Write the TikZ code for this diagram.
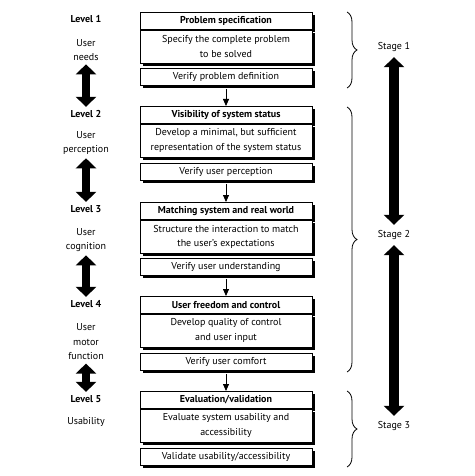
\documentclass[tikz,border=0pt]{standalone}
\usepackage{fontspec}
\setmainfont{PT Sans}
\usetikzlibrary{arrows.meta,positioning,shadows,decorations.pathreplacing}
\tikzstyle{box}=[draw=black, line width=0.8, fill=white, minimum width=172pt, inner sep=0pt, anchor=north, drop shadow={shadow xshift=3pt, shadow yshift=-3pt, opacity=1, fill=black}]
\tikzstyle{title}=[box, minimum height=17pt, font=\bfseries\fontsize{10}{14}\selectfont]
\tikzstyle{body}=[box, minimum height=33pt, align=center]
\tikzstyle{check}=[box, minimum height=17pt]
\tikzstyle{lvl}=[font=\bfseries\fontsize{10}{14}\selectfont]
\tikzstyle{who}=[align=center]
\tikzstyle{stage}=[]
\tikzstyle{l1}=[line width=0.8, -{Triangle[width=6pt,length=7pt]}]
\tikzstyle{fat}=[line width=8, {Triangle[width=20pt,length=10pt]}-{Triangle[width=20pt,length=10pt]}]
\tikzstyle{curly}=[line width=0.8, decorate, decoration={brace, amplitude=10pt}]

\begin{document}
\begin{tikzpicture}[x=1pt, y=-1pt, font=\fontsize{10}{14.5}\selectfont]
    \useasboundingbox (0,0) rectangle (474,476);

    % boxes
    \node (t1) [title] at (226,12) {Problem specification};
    \node (b1) [body] at (t1.south) {Specify the complete problem\\to be solved};
    \node (v1) [check] at (226,68) {Verify problem definition};

    \node (t2) [title] at (226,106) {Visibility of system status};
    \node (b2) [body] at (t2.south) {Develop a minimal, but sufficient\\representation of the system status};
    \node (v2) [check] at (226,163) {Verify user perception};

    \node (t3) [title] at (226,202) {Matching system and real world};
    \node (b3) [body] at (t3.south) {Structure the interaction to match\\the user's expectations};
    \node (v3) [check] at (226,258) {Verify user understanding};

    \node (t4) [title] at (226,296) {User freedom and control};
    \node (b4) [body] at (t4.south) {Develop quality of control\\and user input};
    \node (v4) [check] at (226,353) {Verify user comfort};

    \node (t5) [title] at (226,391) {Evaluation/validation};
    \node (b5) [body] at (t5.south) {Evaluate system usability and\\accessibility};
    \node (v5) [check] at (226,448) {Validate usability/accessibility};

    \draw[l1] ([yshift=-3pt]v1.south) -- (t2.north);
    \draw[l1] ([yshift=-3pt]v2.south) -- (t3.north);
    \draw[l1] ([yshift=-3pt]v3.south) -- (t4.north);
    \draw[l1] ([yshift=-3pt]v4.south) -- (t5.north);

    % levels
    \node (lv1) [lvl] at (86,19) {Level 1};
    \node (u1) [who] at (86,50) {User\\needs};
    \node (lv2) [lvl] at (86,114) {Level 2};
    \node (u2) [who] at (86,143) {User\\perception};
    \node (lv3) [lvl] at (86,209) {Level 3};
    \node (u3) [who] at (86,240) {User\\cognition};
    \node (lv4) [lvl] at (86,304) {Level 4};
    \node (u4) [who] at (86,342) {User\\motor\\function};
    \node (lv5) [lvl] at (86,399) {Level 5};
    \node (u5) [who] at (86,422) {Usability};

    \draw[fat] (u1.south) -- (lv2.north);
    \draw[fat] (u2.south) -- (lv3.north);
    \draw[fat] (u3.south) -- (lv4.north);
    \draw[fat] (u4.south) -- (lv5.north);

    % stages
    \coordinate (a1) at (347,12);
    \coordinate (z1) at (347,88);
    \coordinate (a2) at (347,107);
    \coordinate (z2) at (347,372);
    \coordinate (a3) at (347,391);
    \coordinate (z3) at (347,467);
    \draw[curly] (a1) -- (z1);
    \draw[curly] (a2) -- (z2);
    \draw[curly] (a3) -- (z3);

    \node (s1) [stage] at (394,47) {Stage 1};
    \node (s2) [stage] at (394,235) {Stage 2};
    \node (s3) [stage] at (394,426) {Stage 3};
    \draw[fat, line width=10, shorten <=2pt, shorten >=2pt] (s1.south) -- (s2.north);
    \draw[fat, line width=10, shorten <=2pt, shorten >=2pt] (s2.south) -- (s3.north);

\end{tikzpicture}
\end{document}
